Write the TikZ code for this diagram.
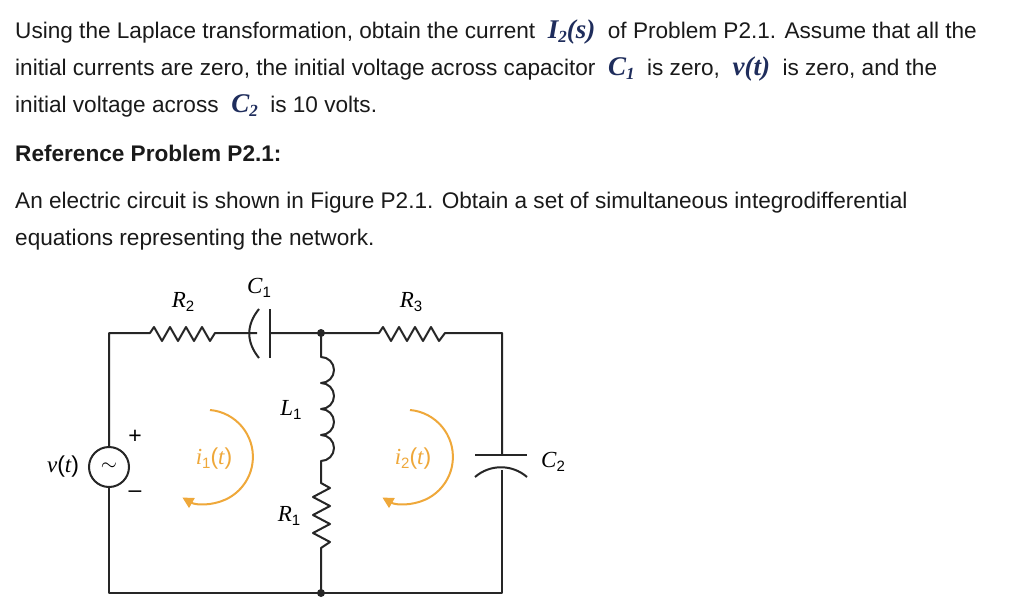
\documentclass[tikz,border=0pt]{standalone}
\usepackage{fontspec}
\setmainfont{Liberation Sans}
\newfontfamily\mserif{Liberation Serif}
\usetikzlibrary{arrows.meta}
\definecolor{txt}{HTML}{1A1A1A}
\definecolor{mth}{HTML}{1F2D5C}
\definecolor{org}{HTML}{EFA83A}
\newcommand{\mm}[1]{{\color{mth}\mserif\bfseries\itshape #1}}
\newcommand{\cl}[1]{{\mserif\itshape #1}}
\newcommand{\msub}[1]{\raisebox{-4pt}{\fontsize{17}{17}\selectfont #1}}
\newcommand{\csub}[1]{\raisebox{-4pt}{\fontsize{15}{15}\selectfont #1}}
\begin{document}
\begin{tikzpicture}[x=1pt,y=-1pt,
  line/.style={draw=black!85,line width=2pt,line join=round},
  txtline/.style={anchor=base west,inner sep=0pt,font=\fontsize{22.6}{26}\selectfont,text=txt},
  clab/.style={inner sep=0pt,font=\fontsize{23}{26}\selectfont},
  loop/.style={draw=org,line width=2pt,-{Triangle[length=11pt,width=11pt]}}]
\useasboundingbox (0,0) rectangle (1024,604);
\fill[white] (0,0) rectangle (1024,604);
% text
\node[txtline] (t1) at (15,39) {Using the Laplace transformation, obtain the current \ \mm{\fontsize{27}{28}\selectfont I\msub{2}(s)} \ of Problem P2.1. Assume that all the};
\node[txtline] (t2) at (15,76) {initial currents are zero, the initial voltage across capacitor \ \mm{\fontsize{27}{28}\selectfont C\msub{1}} \ is zero, \ \mm{\fontsize{27}{28}\selectfont v(t)} \ is zero, and the};
\node[txtline] (t3) at (15,113) {initial voltage across \ \mm{\fontsize{27}{28}\selectfont C\msub{2}} \ is 10 volts.};
\node[txtline,font=\fontsize{22.6}{26}\selectfont\bfseries] (t4) at (15,161) {Reference Problem P2.1:};
\node[txtline] (t5) at (15,208) {An electric circuit is shown in Figure P2.1. Obtain a set of simultaneous integrodifferential};
\node[txtline] (t6) at (15,245) {equations representing the network.};
% coordinates
\coordinate (tl) at (109,333);
\coordinate (bl) at (109,593);
\coordinate (tm) at (321,333);
\coordinate (bm) at (321,593);
\coordinate (tr) at (502,333);
\coordinate (br) at (502,593);
\node[circle,draw=black!85,line width=2pt,minimum size=40pt,inner sep=0pt] (src) at (109,467) {\fontsize{22}{22}\selectfont$\sim$};
\draw[line] (src.north) -- (tl) -- (150,333)
  -- (154,327) -- (162,341) -- (170,327) -- (178,341) -- (186,327) -- (194,341) -- (202,327) -- (210,341) -- (215,333) -- (257,333);
\draw[line] (259,309) .. controls (246,325) and (246,342) .. (259,358);
\draw[line] (270,309) -- (270,358);
\draw[line] (270,333) -- (tm) -- (379,333)
  -- (383,327) -- (391,341) -- (399,327) -- (407,341) -- (415,327) -- (423,341) -- (431,327) -- (439,341) -- (445,333) -- (tr) -- (502,455);
\draw[line] (src.south) -- (bl) -- (bm) -- (br) -- (502,470);
\draw[line] (475,455) -- (527,455);
\draw[line] (475,477) .. controls (490,464) and (512,464) .. (527,477);
\draw[line] (tm) -- (321,357)
  arc[start angle=-90,end angle=90,radius=13] arc[start angle=-90,end angle=90,radius=13] arc[start angle=-90,end angle=90,radius=13] arc[start angle=-90,end angle=90,radius=13]
  -- (321,483) -- (330,488) -- (313,497) -- (330,506) -- (313,515) -- (330,524) -- (313,533) -- (330,542) -- (321,548) -- (bm);
\fill[black!85] (tm) circle (4pt) (bm) circle (4pt);
% labels
\node[clab] (lR2) at (183,302) {\cl{R}\csub{2}};
\node[clab] (lC1) at (259,288) {\cl{C}\csub{1}};
\node[clab] (lR3) at (411,302) {\cl{R}\csub{3}};
\node[clab] (lL1) at (291,410) {\cl{L}\csub{1}};
\node[clab] (lR1) at (289,516) {\cl{R}\csub{1}};
\node[clab] (lC2) at (553,462) {\cl{C}\csub{2}};
\node[clab] (lv) at (63,467) {\cl{v}(\cl{t})};
\node[clab] (lp) at (135,437) {+};
\node[clab] (lm) at (135,494) {\textendash};
\node[clab,text=org] (li1) at (214,459) {\cl{i}\csub{1}(\cl{t})};
\node[clab,text=org] (li2) at (413,459) {\cl{i}\csub{2}(\cl{t})};
\draw[loop] (210,410) arc[start angle=-85,end angle=120,radius=47];
\draw[loop] (410,410) arc[start angle=-85,end angle=120,radius=47];
\end{tikzpicture}
\end{document}
